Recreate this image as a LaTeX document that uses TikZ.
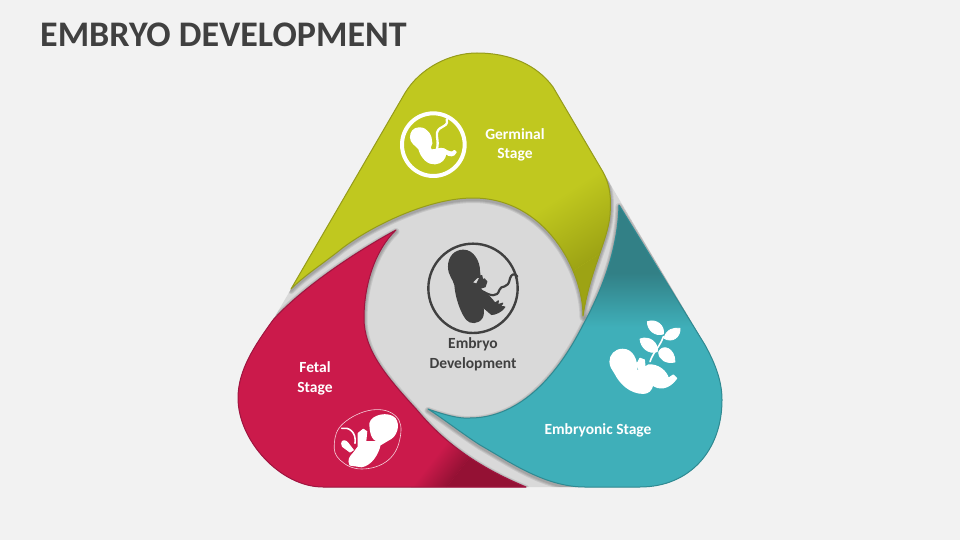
\documentclass[tikz,border=0pt]{standalone}
\usepackage{fontspec}
\setmainfont{Carlito}
\definecolor{bgc}{HTML}{F2F2F2}
\definecolor{hullc}{HTML}{D9D9D9}
\definecolor{ink}{HTML}{404040}
\definecolor{greenb}{HTML}{C0C81F}
\definecolor{greend}{HTML}{9DA314}
\definecolor{greene}{HTML}{969C1A}
\definecolor{redb}{HTML}{CB1A4B}
\definecolor{redd}{HTML}{941134}
\definecolor{rede}{HTML}{A01540}
\definecolor{tealb}{HTML}{3FAFB9}
\definecolor{teald}{HTML}{328086}
\definecolor{teale}{HTML}{2F8A92}
\def\hullpath{(405,93) .. controls (420,68) and (450,53) .. (477,53) .. controls (510,53) and (537,65) .. (553,87) -- (705,345) .. controls (716,365) and (722,382) .. (722,400) .. controls (722,450) and (690,487) .. (640,487) -- (323,487) .. controls (280,487) and (238,440) .. (238,398) .. controls (238,370) and (255,345) .. (273,320) -- cycle}
\def\greenpath{(291,289) -- (405,93) .. controls (420,68) and (450,53) .. (477,53) .. controls (510,53) and (537,65) .. (553,87) -- (603,172) .. controls (611,187) and (611,200) .. (610,215) .. controls (608,240) and (590,270) .. (583,316) .. controls (583,270) and (545,198) .. (473,198) .. controls (425,198) and (365,230) .. (340,250) .. controls (322,264.4) and (305,275) .. (291,289) -- cycle}
\def\redpath{(396,230) .. controls (350,255) and (300,290) .. (273,320) .. controls (255,345) and (238,370) .. (238,398) .. controls (238,440) and (280,487) .. (323,487) -- (526,487) .. controls (490,472) and (450,450) .. (417,410) .. controls (385,375) and (364,350) .. (364,318) .. controls (364,285) and (375,250) .. (396,230) -- cycle}
\def\tealpath{(619,205) -- (705,345) .. controls (716,365) and (722,382) .. (722,400) .. controls (722,450) and (690,487) .. (640,487) -- (585,487) .. controls (545,487) and (510,462) .. (480,445) .. controls (460,432) and (445,420) .. (428,409) .. controls (445,415) and (460,419) .. (470,418) .. controls (510,418) and (550,390) .. (583,325) .. controls (605,285) and (618,245) .. (619,205) -- cycle}
\tikzset{
  shadowline/.style={draw=black,draw opacity=.085,fill=none,line join=round,yshift=-1.5pt},
  stagetext/.style={font=\fontsize{15.5}{19.7}\selectfont\bfseries,align=center,text=white,inner sep=0pt},
  icon/.style={scale=1/3,line join=round,line cap=round}
}
\newcommand{\castshadow}[1]{%
  \foreach \w in {7,5,3}{\path[shadowline,line width=\w pt] #1;}}
\begin{document}
\begin{tikzpicture}[x=1pt,y=-1pt]
\useasboundingbox (0,0) rectangle (960,540);
\fill[bgc] (0,0) rectangle (960,540);
\node[anchor=west,font=\fontsize{36}{38}\selectfont\bfseries,text=ink,inner sep=0pt] (title) at (40,34.5) {EMBRYO DEVELOPMENT};

% grey body and cast shadows
\fill[hullc] \hullpath;
\begin{scope}
\clip \hullpath;
\castshadow{\greenpath}
\castshadow{\redpath}
\castshadow{\tealpath}
\end{scope}

% green petal
\fill[greenb] \greenpath;
\begin{scope}
\clip \greenpath;
\begin{scope}[transform canvas={shift={(577,185)},rotate=33}]
\shade[top color=greenb,bottom color=greend] (-200,0) rectangle (200,70);
\fill[greend] (-200,70) rectangle (200,300);
\end{scope}
\end{scope}
\draw[greene,line width=1pt,line join=round] \greenpath;

% red petal
\fill[redb] \redpath;
\begin{scope}
\clip \redpath;
\begin{scope}[transform canvas={shift={(430,463)},rotate=52}]
\shade[top color=redb,bottom color=redd] (-200,0) rectangle (200,28);
\fill[redd] (-200,28) rectangle (200,300);
\end{scope}
\end{scope}
\draw[rede,line width=1pt,line join=round] \redpath;

% teal petal
\fill[tealb] \tealpath;
\begin{scope}
\clip \tealpath;
\shade[top color=teald,bottom color=tealb] (560,273) rectangle (740,327);
\fill[teald] (560,190) rectangle (740,273.5);
\end{scope}
\draw[teale,line width=1pt,line join=round] \tealpath;

% germinal icon
\begin{scope}[shift={(390,100)},icon]
\draw[white,line width=4pt] (130,134) circle (94);
\path[fill=white,draw=white,line width=1.4pt] (88,84) .. controls (70,84) and (62,97) .. (62,112) .. controls (62,128) and (76,134) .. (87,147) .. controls (95,175) and (115,193) .. (135,191) .. controls (155,190) and (166,175) .. (167,160) .. controls (178,170) and (193,170) .. (198,156) -- (193,152) .. controls (188,160) and (175,156) .. (162,147) .. controls (150,142) and (135,152) .. (124,150) -- (120,143) -- (125,130) .. controls (125,108) and (113,84) .. (88,84) -- cycle;
\draw[white,line width=2.3pt] (140,150) .. controls (150,120) and (130,100) .. (150,85) .. controls (165,75) and (175,75) .. (170,58);
\end{scope}
\node[stagetext] (germinal) at (515,145) {Germinal\\Stage};

% centre icon
\begin{scope}[shift={(420,235)},icon]
\draw[ink,line width=2.4pt] (159,160) circle (134);
\path[fill=ink,draw=ink,line width=1.4pt] (130,46) .. controls (105,46) and (86,65) .. (86,95) .. controls (86,120) and (100,130) .. (105,150) .. controls (108,190) and (125,235) .. (140,253) .. controls (150,266) and (175,266) .. (186,248) .. controls (191,240) and (190,225) .. (188,215) -- (215,238) .. controls (225,238) and (245,230) .. (254,216) -- (240,215) -- (248,205) -- (232,210) -- (235,198) -- (225,205) .. controls (215,190) and (200,178) .. (188,168) -- (178,160) -- (195,155) -- (200,140) -- (193,132) -- (188,138) -- (185,122) -- (178,132) -- (170,148) -- (155,143) -- (170,128) -- (180,125) -- (178,108) .. controls (178,80) and (160,46) .. (130,46) -- cycle;
\draw[ink,line width=2.2pt] (190,170) .. controls (210,182) and (232,188) .. (238,165) .. controls (242,148) and (265,165) .. (270,130) .. controls (273,118) and (285,112) .. (292,125);
\end{scope}
\node[stagetext,text=ink] (embryo) at (473,354) {Embryo\\Development};

% embryonic icon
\begin{scope}[shift={(600,310)},icon]
\path[fill=white,draw=white,line width=1.2pt] (68,118) .. controls (45,118) and (30,135) .. (30,155) .. controls (30,170) and (38,178) .. (45,190) .. controls (60,220) and (90,250) .. (130,250) .. controls (145,250) and (155,240) .. (158,225) .. controls (175,238) and (205,240) .. (230,205) -- (220,195) -- (205,205) .. controls (200,185) and (175,162) .. (145,165) -- (135,172) -- (133,150) -- (120,145) -- (112,160) -- (118,185) -- (110,180) .. controls (112,150) and (98,118) .. (68,118) -- cycle;
\draw[white,line width=1.6pt] (150,155) .. controls (160,125) and (180,110) .. (190,80);
\path[fill=white,draw=white,line width=.8pt] (142,35) .. controls (170,25) and (195,48) .. (190,72) .. controls (165,80) and (142,60) .. (142,35) -- cycle;
\path[fill=white,draw=white,line width=.8pt] (192,85) .. controls (198,58) and (222,52) .. (240,55) .. controls (242,80) and (218,100) .. (192,85) -- cycle;
\path[fill=white,draw=white,line width=.8pt] (120,87) .. controls (148,76) and (176,98) .. (172,125) .. controls (145,134) and (122,112) .. (120,87) -- cycle;
\path[fill=white,draw=white,line width=.8pt] (176,126) .. controls (188,100) and (225,115) .. (225,156) .. controls (200,162) and (176,150) .. (176,126) -- cycle;
\end{scope}
\node[stagetext] (embryonic) at (598,430.5) {Embryonic Stage};

% fetal icon
\begin{scope}[shift={(325,400)},icon]
\draw[white,draw opacity=.8,line width=.6pt] plot[smooth cycle,tension=.7] coordinates {(28,130) (55,70) (140,30) (212,48) (226,110) (190,180) (110,207) (45,180)};
\path[fill=white,draw=white,line width=1.2pt] (135,70) .. controls (140,45) and (190,35) .. (210,55) .. controls (225,75) and (215,110) .. (190,120) -- (165,135) .. controls (160,160) and (140,195) .. (110,200) -- (75,195) .. controls (68,180) and (75,170) .. (85,160) -- (100,140) -- (100,100) -- (115,88) -- (125,95) -- (122,125) -- (135,125) -- (160,125) .. controls (140,120) and (135,95) .. (135,70) -- cycle;
\draw[white,line width=1.6pt] (50,85) .. controls (70,80) and (95,95) .. (90,130);
\path[fill=white,draw=white,line width=1pt] (50,130) .. controls (50,120) and (62,120) .. (68,128) -- (85,150) -- (75,156) -- (60,145) .. controls (52,142) and (50,137) .. (50,130) -- cycle;
\end{scope}
\node[stagetext] (fetal) at (315,378.5) {Fetal\\Stage};
\end{tikzpicture}
\end{document}
